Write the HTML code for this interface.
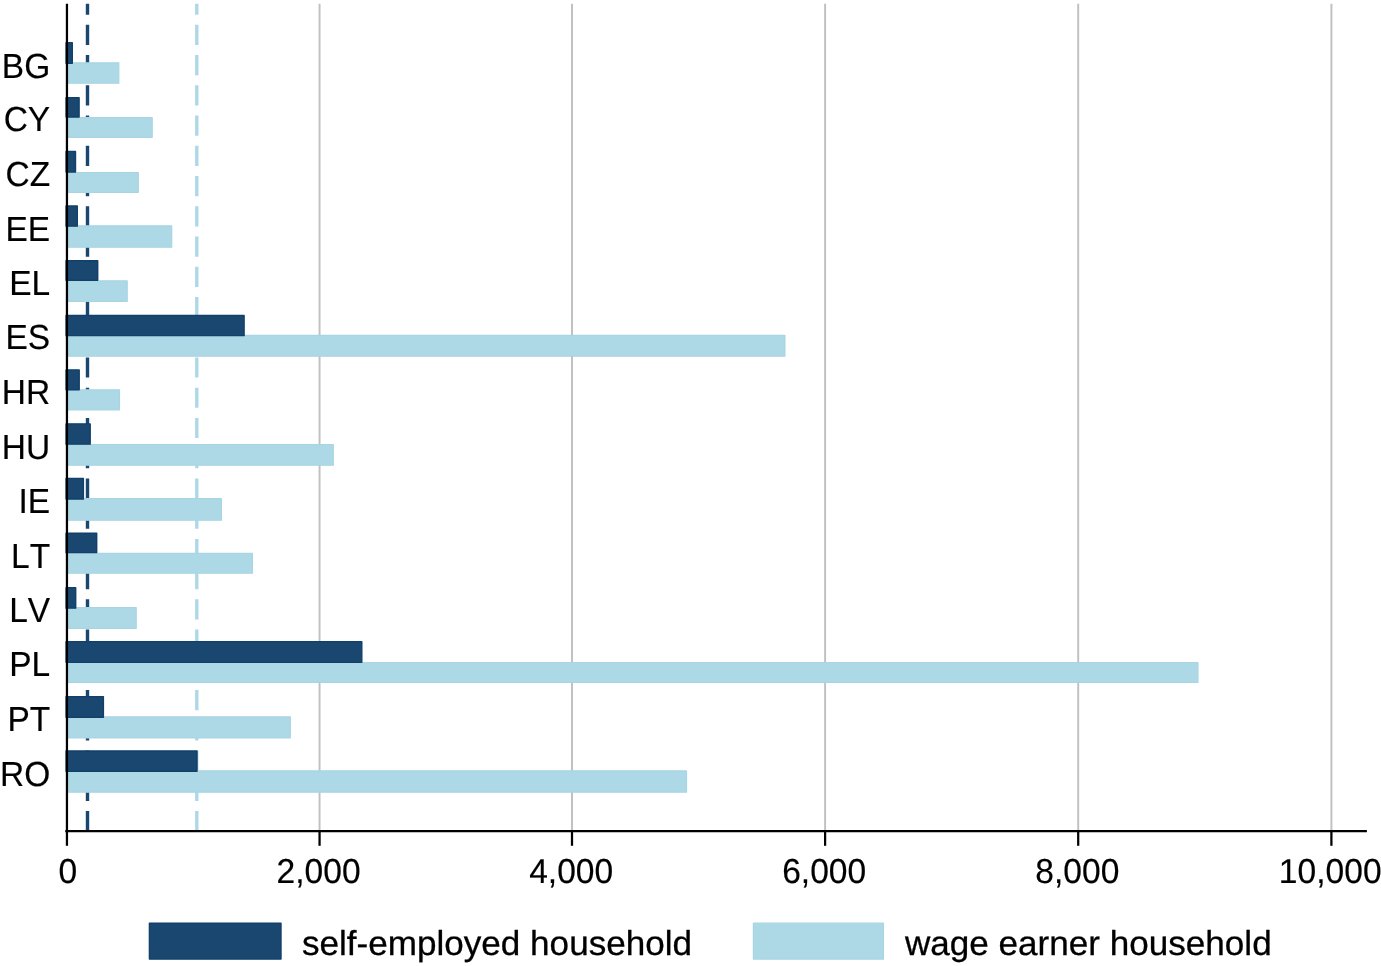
<!DOCTYPE html>
<html><head><meta charset="utf-8"><title>chart</title>
<style>
html,body{margin:0;padding:0;background:#fff;}
body{width:1381px;height:966px;overflow:hidden;}
svg{display:block;}
text{font-family:"Liberation Sans",Arial,Helvetica,sans-serif;fill:#000;stroke:#000;stroke-width:0.3px;font-kerning:none;text-rendering:geometricPrecision;}
.d{fill:#1a476f;stroke:#10406b;stroke-width:1.4px;stroke-linejoin:round;}
.l{fill:#add8e6;stroke:#a8d5e4;stroke-width:1.2px;stroke-linejoin:round;}
.cat{font-size:33.5px;text-anchor:end;stroke-width:0.15px;}
.tick{font-size:33.6px;text-anchor:middle;stroke-width:0.15px;}
.leg{font-size:35.1px;text-anchor:start;}
</style></head><body>
<svg width="1381" height="966" viewBox="0 0 1381 966">
<rect x="0" y="0" width="1381" height="966" fill="#ffffff"/>
<line x1="319.56" y1="3.8" x2="319.56" y2="831" stroke="#c0c0c0" stroke-width="1.95"/>
<line x1="572.0" y1="3.8" x2="572.0" y2="831" stroke="#c0c0c0" stroke-width="1.95"/>
<line x1="825.1" y1="3.8" x2="825.1" y2="831" stroke="#c0c0c0" stroke-width="1.95"/>
<line x1="1078.2" y1="3.8" x2="1078.2" y2="831" stroke="#c0c0c0" stroke-width="1.95"/>
<line x1="1331.4" y1="3.8" x2="1331.4" y2="831" stroke="#c0c0c0" stroke-width="1.95"/>
<line x1="87.5" y1="831.2" x2="87.5" y2="3.8" stroke="#1a476f" stroke-width="3.4" stroke-dasharray="20.15 10.09"/>
<line x1="196.8" y1="831.2" x2="196.8" y2="3.8" stroke="#add8e6" stroke-width="3.4" stroke-dasharray="20.15 10.09"/>
<rect class="l" x="66.6" y="62.90" width="52.20" height="20.36"/>
<rect class="d" x="66.10" y="42.64" width="6.20" height="20.65"/>
<rect class="l" x="66.6" y="117.70" width="85.60" height="19.60"/>
<rect class="d" x="66.10" y="97.64" width="13.00" height="19.41"/>
<rect class="l" x="66.6" y="172.54" width="71.70" height="19.79"/>
<rect class="d" x="66.10" y="151.40" width="9.40" height="20.65"/>
<rect class="l" x="66.6" y="225.80" width="105.10" height="21.46"/>
<rect class="d" x="66.10" y="206.00" width="11.20" height="20.17"/>
<rect class="l" x="66.6" y="280.80" width="60.60" height="20.65"/>
<rect class="d" x="66.10" y="260.70" width="31.60" height="19.54"/>
<rect class="l" x="66.6" y="335.40" width="718.30" height="20.86"/>
<rect class="d" x="66.10" y="315.45" width="178.00" height="20.22"/>
<rect class="l" x="66.6" y="389.90" width="52.90" height="19.93"/>
<rect class="d" x="66.10" y="369.90" width="13.10" height="19.83"/>
<rect class="l" x="66.6" y="444.70" width="266.70" height="20.56"/>
<rect class="d" x="66.10" y="423.83" width="24.10" height="20.34"/>
<rect class="l" x="66.6" y="498.67" width="154.80" height="21.59"/>
<rect class="d" x="66.10" y="478.40" width="17.30" height="20.65"/>
<rect class="l" x="66.6" y="553.35" width="185.80" height="19.91"/>
<rect class="d" x="66.10" y="533.26" width="30.60" height="19.41"/>
<rect class="l" x="66.6" y="607.67" width="69.60" height="20.79"/>
<rect class="d" x="66.10" y="587.70" width="9.60" height="20.47"/>
<rect class="l" x="66.6" y="662.50" width="1131.35" height="19.96"/>
<rect class="d" x="66.10" y="641.58" width="295.70" height="20.78"/>
<rect class="l" x="66.6" y="716.80" width="223.70" height="21.15"/>
<rect class="d" x="66.10" y="696.58" width="37.30" height="20.65"/>
<rect class="l" x="66.6" y="770.90" width="619.90" height="21.30"/>
<rect class="d" x="66.10" y="750.95" width="130.90" height="20.35"/>
<line x1="66.95" y1="3.8" x2="66.95" y2="832.1" stroke="#000" stroke-width="2.25"/>
<line x1="65.3" y1="831.1" x2="1366.9" y2="831.1" stroke="#000" stroke-width="2.25"/>
<line x1="66.95" y1="831.1" x2="66.95" y2="845.8" stroke="#000" stroke-width="2.25"/>
<line x1="319.56" y1="831.1" x2="319.56" y2="845.8" stroke="#000" stroke-width="2.25"/>
<line x1="572.0" y1="831.1" x2="572.0" y2="845.8" stroke="#000" stroke-width="2.25"/>
<line x1="825.1" y1="831.1" x2="825.1" y2="845.8" stroke="#000" stroke-width="2.25"/>
<line x1="1078.2" y1="831.1" x2="1078.2" y2="845.8" stroke="#000" stroke-width="2.25"/>
<line x1="1331.4" y1="831.1" x2="1331.4" y2="845.8" stroke="#000" stroke-width="2.25"/>
<text class="cat" transform="translate(50.2 78) scale(1 1.04)">BG</text>
<text class="cat" transform="translate(50.2 131) scale(1 1.04)">CY</text>
<text class="cat" transform="translate(50.2 186) scale(1 1.04)">CZ</text>
<text class="cat" transform="translate(50.2 241) scale(1 1.04)">EE</text>
<text class="cat" transform="translate(50.2 295) scale(1 1.04)">EL</text>
<text class="cat" transform="translate(50.2 349) scale(1 1.04)">ES</text>
<text class="cat" transform="translate(50.2 404) scale(1 1.04)">HR</text>
<text class="cat" transform="translate(50.2 459) scale(1 1.04)">HU</text>
<text class="cat" transform="translate(50.2 513) scale(1 1.04)">IE</text>
<text class="cat" transform="translate(50.2 568) scale(1 1.04)">LT</text>
<text class="cat" transform="translate(50.2 622) scale(1 1.04)">LV</text>
<text class="cat" transform="translate(50.2 676) scale(1 1.04)">PL</text>
<text class="cat" transform="translate(50.2 731) scale(1 1.04)">PT</text>
<text class="cat" transform="translate(50.2 786) scale(1 1.04)">RO</text>
<text class="tick" transform="translate(67.80 883) scale(1 1.03)">0</text>
<text class="tick" transform="translate(318.60 883) scale(1 1.03)">2,000</text>
<text class="tick" transform="translate(571.20 883) scale(1 1.03)">4,000</text>
<text class="tick" transform="translate(824.20 883) scale(1 1.03)">6,000</text>
<text class="tick" transform="translate(1077.30 883) scale(1 1.03)">8,000</text>
<text class="tick" transform="translate(1330.20 883) scale(1 1.03)">10,000</text>
<rect class="d" x="149.4" y="923.3" width="131.6" height="35.8"/>
<rect class="l" x="753.4" y="923.2" width="130.05" height="35.9"/>
<text class="leg" transform="translate(302.0 955) scale(1 0.985)">self-employed household</text>
<text class="leg" transform="translate(905.0 955) scale(1 0.985)">wage earner household</text>
</svg></body></html>
